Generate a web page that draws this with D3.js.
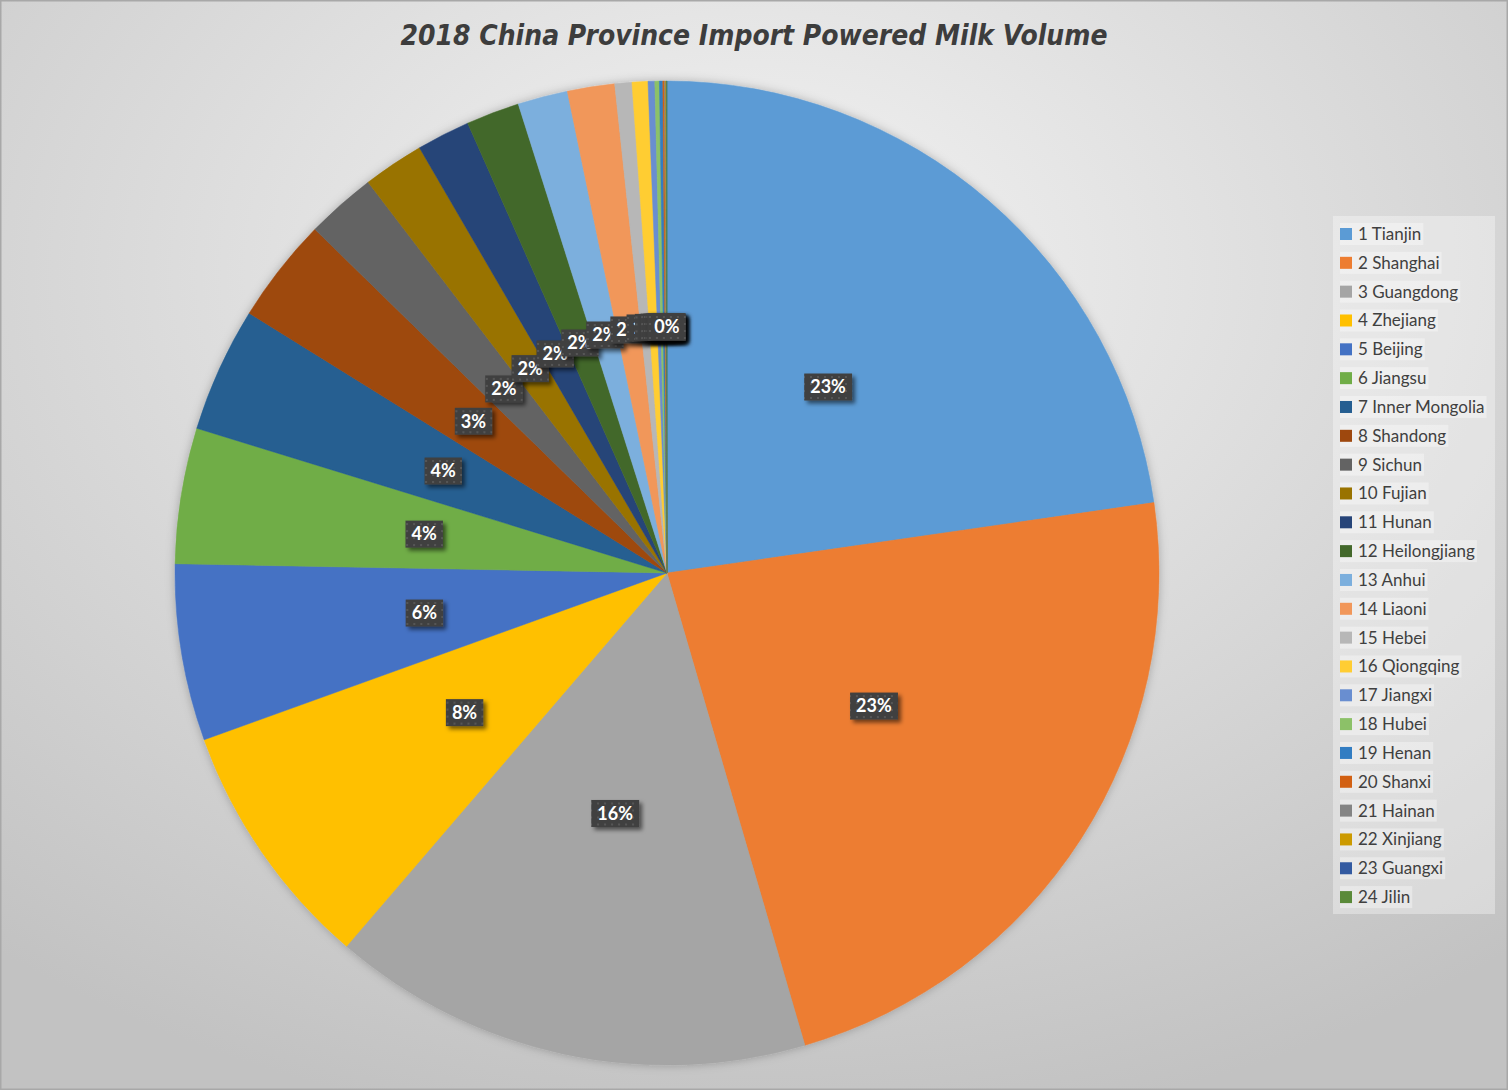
<!DOCTYPE html>
<html>
<head>
<meta charset="utf-8">
<script src="https://cdn.jsdelivr.net/npm/d3@7"></script>
<style>
  html, body { margin: 0; padding: 0; background: #fff; }
  svg { display: block; }
</style>
</head>
<body>
<div id="chart"></div>
<script>
// provinces, in legend order
const provinces = [
  '1 Tianjin', '2 Shanghai', '3 Guangdong', '4 Zhejiang', '5 Beijing', '6 Jiangsu',
  '7 Inner Mongolia', '8 Shandong', '9 Sichun', '10 Fujian', '11 Hunan', '12 Heilongjiang',
  '13 Anhui', '14 Liaoni', '15 Hebei', '16 Qiongqing', '17 Jiangxi', '18 Hubei',
  '19 Henan', '20 Shanxi', '21 Hainan', '22 Xinjiang', '23 Guangxi', '24 Jilin'
];
// share of import volume (%)
const shares = [
  22.7, 22.75, 15.8, 8.2, 5.8, 4.45,
  4.1, 3.45, 2.3, 2.0, 1.75, 1.75,
  1.64, 1.55, 0.56, 0.52, 0.22, 0.15,
  0.11, 0.05, 0.03, 0.025, 0.02, 0.01
];
const sliceColors = [
  '#5B9BD5', '#ED7D31', '#A5A5A5', '#FFC000', '#4472C4', '#70AD47',
  '#255E91', '#9E480E', '#636363', '#997300', '#264478', '#43682B',
  '#7CAFDD', '#F1975A', '#B7B7B7', '#FFCD33', '#698ED0', '#8CC168',
  '#327DC2', '#D26012', '#848484', '#CC9A00', '#335AA1', '#5A8A39'
];
const title = '2018 China Province Import Powered Milk Volume';

const W = 1508, H = 1090;
const cx = 667, cy = 573, radius = 492;

const svg = d3.select('#chart').append('svg')
  .attr('width', W)
  .attr('height', H);

const defs = svg.append('defs');

// background gradient
const bg = defs.append('radialGradient')
  .attr('id', 'bg')
  .attr('cx', '50%').attr('cy', '25%').attr('r', '80%');
bg.append('stop').attr('offset', '0%').attr('stop-color', '#f4f4f4');
bg.append('stop').attr('offset', '100%').attr('stop-color', '#c2c2c2');

// dotted fill of the data labels
const pat = defs.append('pattern')
  .attr('id', 'dots')
  .attr('patternUnits', 'userSpaceOnUse')
  .attr('width', 7).attr('height', 7);
pat.append('rect').attr('width', 7).attr('height', 7).attr('fill', '#404040');
pat.append('rect').attr('x', 3).attr('y', 3).attr('width', 2).attr('height', 2).attr('fill', '#575757');

const lblShadow = defs.append('filter').attr('id', 'lblShadow')
  .attr('x', '-30%').attr('y', '-30%').attr('width', '160%').attr('height', '180%');
lblShadow.append('feDropShadow')
  .attr('dx', 3).attr('dy', 3).attr('stdDeviation', 2)
  .attr('flood-color', '#000').attr('flood-opacity', 0.55);

const pieShadow = defs.append('filter').attr('id', 'pieShadow')
  .attr('x', '-10%').attr('y', '-10%').attr('width', '120%').attr('height', '120%');
pieShadow.append('feDropShadow')
  .attr('dx', 0).attr('dy', 0).attr('stdDeviation', 5)
  .attr('flood-color', '#000').attr('flood-opacity', 0.25);

svg.append('rect')
  .attr('x', 0.5).attr('y', 0.5)
  .attr('width', W - 1).attr('height', H - 1)
  .attr('fill', 'url(#bg)')
  .attr('stroke', '#a8a8a8')
  .attr('stroke-width', 2);

// title
svg.append('text')
  .attr('x', 754)
  .attr('y', 45)
  .attr('text-anchor', 'middle')
  .attr('font-family', '"DejaVu Sans", sans-serif')
  .attr('font-style', 'italic')
  .attr('font-weight', 'bold')
  .attr('font-size', 28)
  .attr('fill', '#3d3d3d')
  .attr('textLength', 707)
  .attr('lengthAdjust', 'spacingAndGlyphs')
  .text(title);

// pie
const pie = d3.pie().sort(null).value((d) => d);
const arcs = pie(shares);
const total = d3.sum(shares);
const arc = d3.arc().innerRadius(0).outerRadius(radius);
const labelArc = d3.arc().innerRadius(radius * 0.5).outerRadius(radius * 0.5);
const fmt = d3.format('.0%');

const g = svg.append('g').attr('transform', `translate(${cx},${cy})`);

g.append('g')
  .attr('filter', 'url(#pieShadow)')
  .selectAll('path')
  .data(arcs)
  .enter()
  .append('path')
  .attr('d', arc)
  .attr('fill', (d, i) => sliceColors[i])
  .attr('stroke', (d, i) => sliceColors[i])
  .attr('stroke-width', 0.5);

// data labels, drawn in order so later ones sit on top (they pile up like in the original)
const labels = g.append('g')
  .selectAll('g')
  .data(arcs)
  .enter()
  .append('g')
  .attr('transform', (d) => `translate(${labelArc.centroid(d)})`);

labels.each(function (d) {
  const lg = d3.select(this);
  const t = lg.append('text')
    .attr('text-anchor', 'middle')
    .attr('dy', '0.35em')
    .attr('font-family', 'Lato, "Open Sans", sans-serif')
    .attr('font-weight', 'bold')
    .attr('font-size', 18)
    .attr('fill', '#ffffff')
    .text(fmt(d.value / total));
  const bb = t.node().getBBox();
  lg.insert('rect', 'text')
    .attr('x', bb.x - 6)
    .attr('y', -13.5)
    .attr('width', bb.width + 12)
    .attr('height', 27)
    .attr('fill', 'url(#dots)')
    .attr('filter', 'url(#lblShadow)');
});

// legend
const legX = 1333, legY = 216, legW = 162, legH = 698;
const rowH = 28.83;
svg.append('rect')
  .attr('x', legX).attr('y', legY)
  .attr('width', legW).attr('height', legH)
  .attr('fill', '#ffffff')
  .attr('fill-opacity', 0.35);

const items = svg.append('g')
  .selectAll('g')
  .data(provinces)
  .enter()
  .append('g')
  .attr('transform', (d, i) => `translate(${legX + 7},${legY + 18 + i * rowH})`);

items.each(function (d, i) {
  const it = d3.select(this);
  const t = it.append('text')
    .attr('x', 18)
    .attr('dy', '0.35em')
    .attr('font-family', 'Lato, "Open Sans", sans-serif')
    .attr('font-size', 17)
    .attr('fill', '#404040')
    .text(d);
  const bb = t.node().getBBox();
  it.insert('rect', 'text')
    .attr('x', 0)
    .attr('y', -11)
    .attr('width', bb.x + bb.width + 2)
    .attr('height', 22)
    .attr('fill', '#ffffff')
    .attr('fill-opacity', 0.35);
  it.append('rect')
    .attr('x', 0).attr('y', -6)
    .attr('width', 12).attr('height', 12)
    .attr('fill', sliceColors[i]);
});
</script>
</body>
</html>
